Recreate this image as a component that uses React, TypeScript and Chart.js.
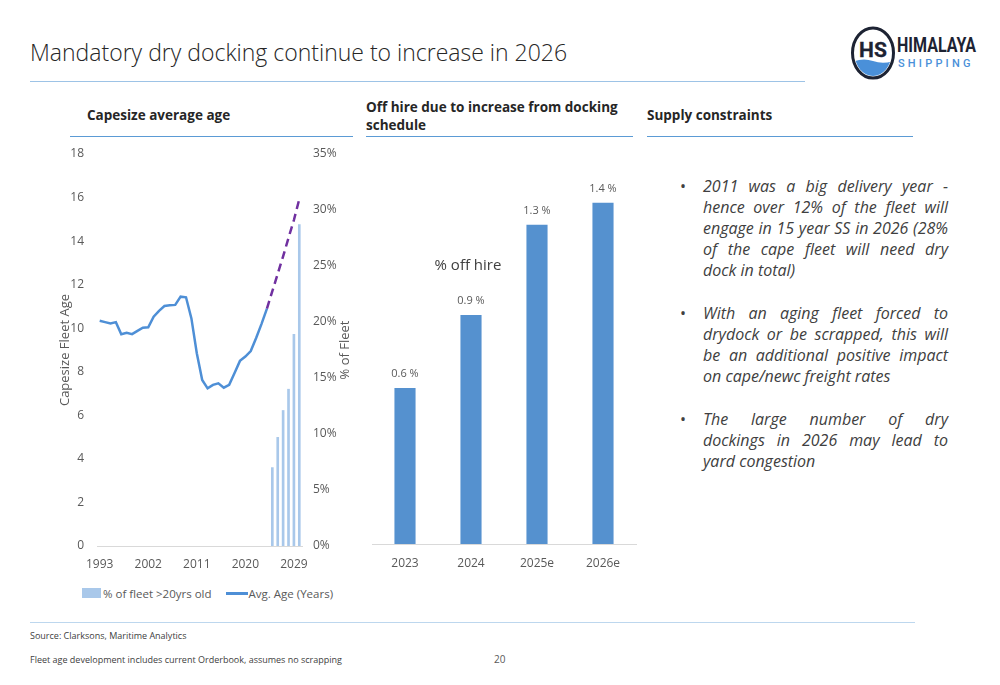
import React, { useEffect, useRef } from 'react';
import { Chart, registerables } from 'chart.js';

Chart.register(...registerables);

// ---- Capesize average age (left panel) ----
const yearLabels = [
  '1993', '1994', '1995', '1996', '1997', '1998', '1999', '2000', '2001', '2002',
  '2003', '2004', '2005', '2006', '2007', '2008', '2009', '2010', '2011', '2012',
  '2013', '2014', '2015', '2016', '2017', '2018', '2019', '2020', '2021', '2022',
  '2023', '2024', '2025', '2026', '2027', '2028', '2029', '2030',
];
const avgAgeYears = [
  10.34, 10.28, 10.22, 10.28, 9.72, 9.79, 9.73, 9.88, 10.02, 10.04,
  10.53, 10.8, 11.02, 11.05, 11.07, 11.45, 11.42, 10.45, 8.85, 7.62,
  7.24, 7.4, 7.47, 7.27, 7.4, 7.94, 8.5, 8.7, 8.95, 9.55,
  10.2, 10.9, 11.7, 12.5, 13.3, 14.15, 14.97, 15.93,
];
const shareOver20 = [
  null, null, null, null, null, null, null, null, null, null,
  null, null, null, null, null, null, null, null, null, null,
  null, null, null, null, null, null, null, null, null, null,
  null, null, 7.0, 9.7, 12.1, 14.0, 18.9, 28.7,
];
const forecastFrom = '2024';
const ageTicks = { min: 0, max: 18, step: 2 };
const shareTicks = { min: 0, max: 35, step: 5 };

// ---- Off hire (middle panel) ----
const offHireYears = ['2023', '2024', '2025e', '2026e'];
const offHirePct = [0.64, 0.94, 1.31, 1.4];

// ---- Supply constraints bullets (one entry per printed line) ----
const bullets = [
  [
    '2011 was a big delivery year -',
    'hence over 12% of the fleet will',
    'engage in 15 year SS in 2026 (28%',
    'of the cape fleet will need dry',
    'dock in total)',
  ],
  [
    'With an aging fleet forced to',
    'drydock or be scrapped, this will',
    'be an additional positive impact',
    'on cape/newc freight rates',
  ],
  [
    'The large number of dry',
    'dockings in 2026 may lead to',
    'yard congestion',
  ],
];

const FONT = '"Open Sans", "DejaVu Sans", sans-serif';
const TICK = '#595959';
const LINE_BLUE = '#4e8fd6';
const FORECAST = '#7030a0';
const LIGHT_BLUE = '#a9c8ea';
const BAR_BLUE = '#5591cf';
const RULE_BLUE = '#5b9bd5';

const tickFont = { family: FONT, size: 12 };

// keep tick-label overhang from shrinking the plot area
const fixedVertical = (width: number) => (s: any) => {
  s.width = width;
  s.paddingTop = 0;
  s.paddingBottom = 0;
};

const rightTitlePlugin = {
  id: 'rightTitle',
  afterDraw(chart: any) {
    const { ctx, chartArea } = chart;
    ctx.save();
    ctx.translate(chartArea.right + 43, (chartArea.top + chartArea.bottom) / 2);
    ctx.rotate(-Math.PI / 2);
    ctx.font = `13px ${FONT}`;
    ctx.fillStyle = TICK;
    ctx.textAlign = 'center';
    ctx.textBaseline = 'middle';
    ctx.fillText('% of Fleet', 0, 0);
    ctx.restore();
  },
};

const valueLabelPlugin = {
  id: 'valueLabels',
  afterDatasetsDraw(chart: any) {
    const { ctx } = chart;
    const meta = chart.getDatasetMeta(0);
    const data = chart.data.datasets[0].data as number[];
    ctx.save();
    ctx.font = `11px ${FONT}`;
    ctx.fillStyle = TICK;
    ctx.textAlign = 'center';
    ctx.textBaseline = 'middle';
    meta.data.forEach((el: any, i: number) => {
      ctx.fillText(`${data[i].toFixed(1)} %`, el.x, el.y - 14);
    });
    ctx.restore();
  },
};

function AgeChart() {
  const ref = useRef<HTMLCanvasElement>(null);
  useEffect(() => {
    const forecastIdx = yearLabels.indexOf(forecastFrom);
    const chart = new Chart(ref.current!, {
      type: 'bar',
      data: {
        labels: yearLabels,
        datasets: [
          {
            type: 'line',
            label: 'Avg. Age (Years)',
            data: avgAgeYears,
            yAxisID: 'y',
            borderColor: LINE_BLUE,
            borderWidth: 2.5,
            pointRadius: 0,
            tension: 0,
            order: 0,
            segment: {
              borderColor: (c: any) => (c.p0DataIndex >= forecastIdx ? FORECAST : undefined),
              borderDash: (c: any) => (c.p0DataIndex >= forecastIdx ? [8, 5] : undefined),
            },
          } as any,
          {
            type: 'bar',
            label: '% of fleet >20yrs old',
            data: shareOver20,
            yAxisID: 'y1',
            backgroundColor: LIGHT_BLUE,
            barThickness: 2,
            order: 1,
          } as any,
        ],
      },
      options: {
        animation: false,
        responsive: true,
        maintainAspectRatio: false,
        layout: { padding: { top: 14, left: 0, right: 0, bottom: 0 } },
        plugins: { legend: { display: false }, tooltip: { enabled: false } },
        scales: {
          x: {
            type: 'category',
            offset: true,
            grid: { display: false, drawTicks: false },
            border: { display: true, color: '#d9d9d9', width: 1 },
            ticks: {
              autoSkip: false,
              maxRotation: 0,
              padding: 11,
              color: TICK,
              font: tickFont,
              callback(this: any, v: any, i: number) {
                return i % 9 === 0 ? this.getLabelForValue(v) : null;
              },
            },
            afterFit: (s: any) => { s.height = 34; s.paddingLeft = 0; s.paddingRight = 0; },
          },
          y: {
            position: 'left',
            min: ageTicks.min,
            max: ageTicks.max,
            grid: { display: false, drawTicks: false },
            border: { display: false },
            ticks: { stepSize: ageTicks.step, padding: 13, color: TICK, font: tickFont },
            title: {
              display: true,
              text: 'Capesize Fleet Age',
              color: TICK,
              font: { family: FONT, size: 13 },
              padding: { top: 17, bottom: 0 },
            },
            afterFit: fixedVertical(57),
          },
          y1: {
            position: 'right',
            min: shareTicks.min,
            max: shareTicks.max,
            grid: { display: false, drawTicks: false },
            border: { display: false },
            ticks: {
              stepSize: shareTicks.step,
              padding: 11,
              color: TICK,
              font: tickFont,
              callback: (v: any) => `${v}%`,
            },
            afterFit: fixedVertical(58),
          },
        },
      } as any,
      plugins: [rightTitlePlugin],
    });
    return () => chart.destroy();
  }, []);
  return <canvas ref={ref} />;
}

function OffHireChart() {
  const ref = useRef<HTMLCanvasElement>(null);
  useEffect(() => {
    const chart = new Chart(ref.current!, {
      type: 'bar',
      data: {
        labels: offHireYears,
        datasets: [
          {
            label: '% off hire',
            data: offHirePct,
            backgroundColor: BAR_BLUE,
            barPercentage: 0.32,
            categoryPercentage: 1,
          },
        ],
      },
      options: {
        animation: false,
        responsive: true,
        maintainAspectRatio: false,
        layout: { padding: { top: 14, left: 17, right: 19, bottom: 0 } },
        plugins: { legend: { display: false }, tooltip: { enabled: false } },
        scales: {
          x: {
            grid: { display: false, drawTicks: false },
            border: { display: true, color: '#d9d9d9', width: 1 },
            ticks: { padding: 12, color: TICK, font: tickFont, maxRotation: 0 },
            afterFit: (s: any) => { s.height = 36; s.paddingLeft = 0; s.paddingRight = 0; },
          },
          y: { display: false, min: 0, max: 1.6 },
        },
      } as any,
      plugins: [valueLabelPlugin],
    });
    return () => chart.destroy();
  }, []);
  return <canvas ref={ref} />;
}

function Logo() {
  return (
    <div style={{ position: 'absolute', left: 850, top: 26, width: 130, height: 56 }}>
      <svg width={46} height={56} style={{ position: 'absolute', left: 0, top: 0 }}>
        <defs>
          <clipPath id="emblemClip">
            <ellipse cx={23} cy={27} rx={18.5} ry={23} />
          </clipPath>
        </defs>
        <ellipse cx={23} cy={27} rx={20.5} ry={25} fill="#fff" stroke="#1d2333" strokeWidth={3} />
        <path d="M0 37 Q12 31 23 35 T46 34 L46 56 L0 56 Z" fill="#4a90d9" clipPath="url(#emblemClip)" />
        <text x={23} y={31} textAnchor="middle" fontFamily="Roboto, sans-serif" fontWeight={700} fontSize={21} fill="#1d2333" stroke="#1d2333" strokeWidth={0.3}>HS</text>
      </svg>
      <div style={{ position: 'absolute', left: 47, top: 9, fontFamily: 'Roboto, sans-serif', fontWeight: 700, fontSize: 20, lineHeight: '21px', color: '#1d2333', transform: 'scaleX(0.8)', transformOrigin: 'left center', whiteSpace: 'nowrap' }}>HIMALAYA</div>
      <div style={{ position: 'absolute', left: 48, top: 32, fontFamily: 'Roboto, sans-serif', fontWeight: 500, fontSize: 11, lineHeight: '12px', color: '#4a90d9', letterSpacing: 3.2 }}>SHIPPING</div>
    </div>
  );
}

const heading: React.CSSProperties = {
  position: 'absolute',
  fontFamily: FONT,
  fontWeight: 700,
  fontSize: 13.5,
  lineHeight: '18px',
  color: '#262626',
};

const rule = (left: number, top: number, width: number, color: string, h = 1.5): React.CSSProperties => ({
  position: 'absolute', left, top, width, height: h, background: color,
});

export default function App() {
  return (
    <div style={{ position: 'fixed', left: 0, top: 0, width: 1000, height: 685, background: '#fff', overflow: 'hidden', fontFamily: FONT }}>
      <div style={{ position: 'absolute', left: 30, top: 37, fontSize: 23, fontWeight: 300, lineHeight: '30px', color: '#262626', whiteSpace: 'nowrap' }}>
        Mandatory dry docking continue to increase in 2026
      </div>
      <div style={rule(30, 81, 775, '#9dc3e6', 1)} />
      <Logo />

      <div style={{ ...heading, left: 87, top: 106 }}>Capesize average age</div>
      <div style={rule(70, 135.5, 283, RULE_BLUE)} />
      <div style={{ ...heading, left: 366, top: 98, width: 270 }}>Off hire due to increase from docking<br />schedule</div>
      <div style={rule(366, 135.5, 267, RULE_BLUE)} />
      <div style={{ ...heading, left: 647, top: 106 }}>Supply constraints</div>
      <div style={rule(647, 135.5, 266, RULE_BLUE)} />

      <div style={{ position: 'absolute', left: 40, top: 140, width: 320, height: 440 }}>
        <AgeChart />
      </div>
      <div style={{ position: 'absolute', left: 82, top: 585, height: 16, display: 'flex', alignItems: 'center', fontSize: 11.5, color: TICK, whiteSpace: 'nowrap' }}>
        <span style={{ display: 'inline-block', width: 19, height: 10, background: LIGHT_BLUE, marginRight: 2 }} />
        <span>% of fleet &gt;20yrs old</span>
        <span style={{ display: 'inline-block', width: 22, height: 3, background: LINE_BLUE, marginLeft: 14, marginRight: 1 }} />
        <span>Avg. Age (Years)</span>
      </div>

      <div style={{ position: 'absolute', left: 355, top: 140, width: 300, height: 440 }}>
        <OffHireChart />
      </div>
      <div style={{ position: 'absolute', left: 408, top: 254, width: 120, textAlign: 'center', fontSize: 15, lineHeight: '20px', color: '#404040' }}>% off hire</div>

      <div style={{ position: 'absolute', left: 680, top: 176, width: 268, fontStyle: 'italic', fontSize: 16, lineHeight: '21px', color: '#404040' }}>
        {bullets.map((lines, b) => (
          <div key={b} style={{ position: 'relative', paddingLeft: 23, marginBottom: 22 }}>
            <span style={{ position: 'absolute', left: 0, top: 0, fontStyle: 'normal' }}>•</span>
            {lines.map((ln, i) => (
              <div key={i} style={{ whiteSpace: 'nowrap', textAlign: 'justify', textAlignLast: i < lines.length - 1 ? 'justify' : 'left' }}>{ln}</div>
            ))}
          </div>
        ))}
      </div>

      <div style={rule(30, 622, 885, '#bdd7ee', 1)} />
      <div style={{ position: 'absolute', left: 30, top: 630, fontSize: 9, lineHeight: '12px', color: '#404040' }}>Source: Clarksons, Maritime Analytics</div>
      <div style={{ position: 'absolute', left: 30, top: 654, fontSize: 9, lineHeight: '12px', color: '#404040' }}>Fleet age development includes current Orderbook, assumes no scrapping</div>
      <div style={{ position: 'absolute', left: 494, top: 652, fontSize: 10, lineHeight: '14px', color: TICK }}>20</div>
    </div>
  );
}
